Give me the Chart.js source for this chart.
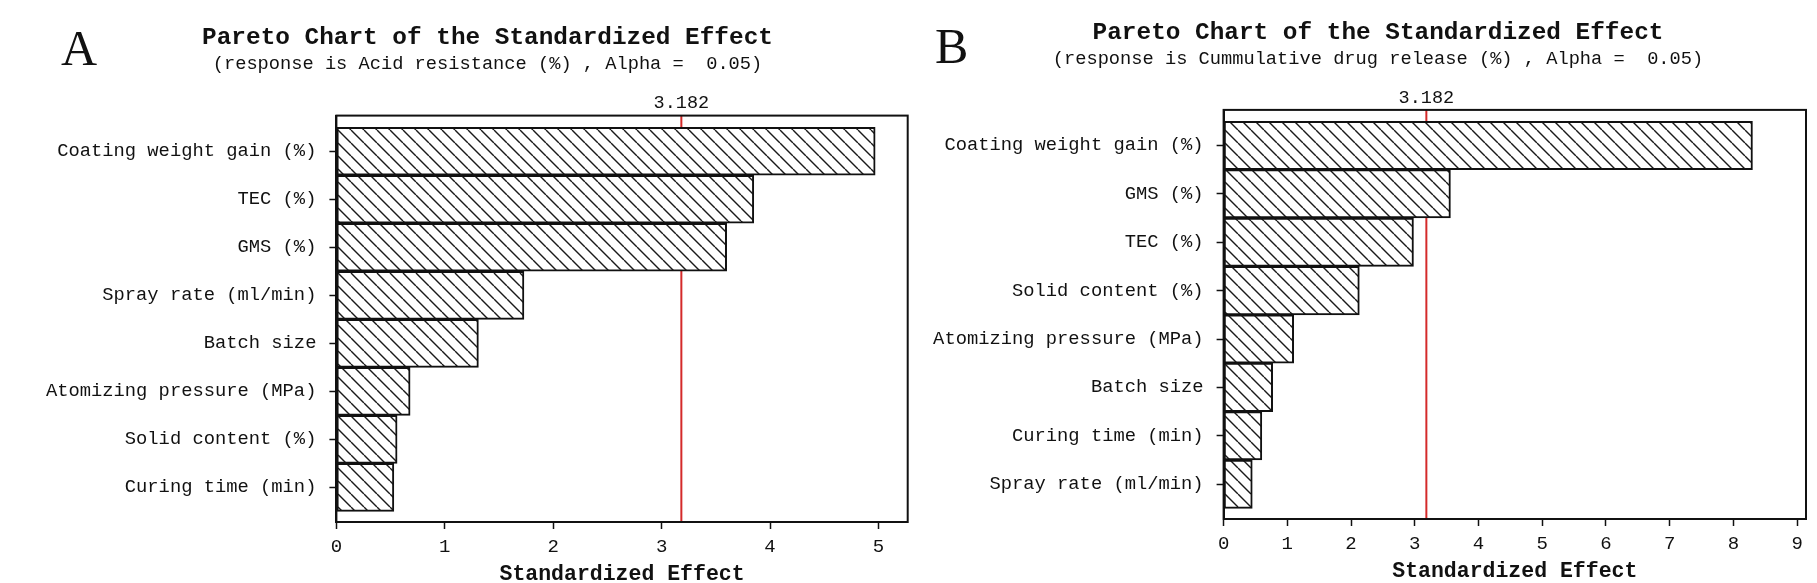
<!DOCTYPE html>
<html><head><meta charset="utf-8">
<script src="https://cdn.jsdelivr.net/npm/chart.js@4.4.1/dist/chart.umd.min.js"></script>
<style>
html,body{margin:0;padding:0;background:#fff;width:1817px;height:583px;overflow:hidden;}
canvas{position:absolute;top:0;}
#cA{left:0;} #cB{left:900px;}
</style></head><body>
<canvas id="cA" width="930" height="583" style="width:930px;height:583px"></canvas>
<canvas id="cB" width="917" height="583" style="width:917px;height:583px"></canvas>
<script>
const titleText = 'Pareto Chart of the Standardized Effect';
const subtitleA = '(response is Acid resistance (%) , Alpha =  0.05)';
const subtitleB = '(response is Cummulative drug release (%) , Alpha =  0.05)';
const xTitle = 'Standardized Effect';
const criticalValue = 3.182;

const factorsA = ['Coating weight gain (%)', 'TEC (%)', 'GMS (%)', 'Spray rate (ml/min)', 'Batch size', 'Atomizing pressure (MPa)', 'Solid content (%)', 'Curing time (min)'];
const effectsA = [4.97, 3.85, 3.60, 1.73, 1.31, 0.68, 0.56, 0.53];
const xTicksA = [0, 1, 2, 3, 4, 5];

const factorsB = ['Coating weight gain (%)', 'GMS (%)', 'TEC (%)', 'Solid content (%)', 'Atomizing pressure (MPa)', 'Batch size', 'Curing time (min)', 'Spray rate (ml/min)'];
const effectsB = [8.30, 3.56, 2.98, 2.13, 1.10, 0.77, 0.60, 0.45];
const xTicksB = [0, 1, 2, 3, 4, 5, 6, 7, 8, 9];

const INK = '#111';

function hatch() {
  const s = 13, c = document.createElement('canvas');
  c.width = s; c.height = s;
  const g = c.getContext('2d');
  g.fillStyle = '#fff'; g.fillRect(0, 0, s, s);
  g.strokeStyle = '#1a1a1a'; g.lineWidth = 1.4;
  g.beginPath();
  for (const o of [-s, 0, s]) { g.moveTo(o, 0); g.lineTo(o + s, s); }
  g.stroke();
  return g.createPattern(c, 'repeat');
}

const decor = {
  id: 'decor',
  afterLayout(chart) {
    // let the long factor names use the free space left of the axis box
    chart.scales.y.left = 0;
  },
  beforeDatasetsDraw(chart) {
    const {ctx, chartArea: a, scales: {x}} = chart;
    const px = x.getPixelForValue(criticalValue);
    ctx.save();
    ctx.strokeStyle = '#d42a2a'; ctx.lineWidth = 2;
    ctx.beginPath(); ctx.moveTo(px, a.top); ctx.lineTo(px, a.bottom); ctx.stroke();
    ctx.fillStyle = INK; ctx.font = '18.5px "Liberation Mono"';
    ctx.textAlign = 'center'; ctx.textBaseline = 'middle';
    ctx.fillText(String(criticalValue), px, a.top - 12);
    ctx.restore();
  },
  afterDraw(chart, args, opts) {
    const {ctx, chartArea: a} = chart;
    ctx.save();
    ctx.strokeStyle = INK; ctx.lineWidth = 2;
    ctx.strokeRect(a.left, a.top, a.right - a.left, a.bottom - a.top);
    ctx.fillStyle = INK; ctx.font = '50px "Liberation Serif"';
    ctx.textAlign = 'left'; ctx.textBaseline = 'alphabetic';
    ctx.fillText(opts.letter, opts.lx, opts.ly);
    ctx.restore();
  }
};

function makeChart(id, cats, vals, xTicks, xMax, sub, o) {
  const data = vals.map((v, i) => ({x: v, y: i}));
  const gridOpts = () => ({display: true, offset: false, drawOnChartArea: false, drawTicks: true, tickLength: 7, tickColor: INK, tickWidth: 1.5});
  return new Chart(document.getElementById(id), {
    type: 'bar',
    data: {datasets: [{data, backgroundColor: hatch(), borderColor: INK, borderWidth: 2, borderSkipped: false, barPercentage: 1, categoryPercentage: 1}]},
    options: {
      indexAxis: 'y', responsive: false, animation: false,
      layout: {padding: {left: o.pl, right: o.pr, top: 0, bottom: o.pb}},
      plugins: {
        legend: {display: false}, tooltip: {enabled: false},
        title: {display: true, text: titleText, color: INK, font: {family: 'Liberation Mono', size: 24.4, weight: 'bold', lineHeight: 1}, padding: {top: o.tt, bottom: 0}},
        subtitle: {display: true, text: sub, color: INK, font: {family: 'Liberation Mono', size: 18.7, lineHeight: 1}, padding: {top: o.st, bottom: o.sb}},
        decor: {letter: o.letter, lx: o.lx, ly: o.ly}
      },
      scales: {
        x: {
          type: 'linear', position: 'bottom', min: 0, max: xMax, offset: false,
          afterBuildTicks: s => { s.ticks = xTicks.map(v => ({value: v})); },
          afterFit: s => { s.height = 61; },
          grid: gridOpts(),
          border: {display: true, color: INK, width: 2},
          ticks: {color: INK, font: {family: 'Liberation Mono', size: 19}, padding: 7, maxRotation: 0},
          title: {display: true, text: xTitle, color: INK, font: {family: 'Liberation Mono', size: 21.5, weight: 'bold', lineHeight: 0.8}, padding: {top: 0, bottom: 0}}
        },
        y: {
          type: 'linear', position: 'left', reverse: true, min: o.ymin, max: o.ymax, offset: false, bounds: 'data',
          afterBuildTicks: s => { s.ticks = cats.map((c, i) => ({value: i})); },
          afterFit: s => { s.width = o.yw; },
          grid: gridOpts(),
          border: {display: true, color: INK, width: 2},
          ticks: {color: INK, font: {family: 'Liberation Mono', size: 18.8}, padding: 13, autoSkip: false, callback: v => cats[v]}
        }
      }
    },
    plugins: [decor]
  });
}

makeChart('cA', factorsA, effectsA, xTicksA, 5.27, subtitleA,
  {pl: 67.3, pr: 22.3, pb: 0, yw: 269.1, tt: 26, st: 4.75, sb: 41.75, ymin: -0.743, ymax: 7.722, letter: 'A', lx: 61, ly: 65});
makeChart('cB', factorsB, effectsB, xTicksB, 9.14, subtitleB,
  {pl: 50, pr: 11, pb: 3, yw: 273.6, tt: 21, st: 4.25, sb: 41.55, ymin: -0.735, ymax: 7.72, letter: 'B', lx: 35, ly: 63});
</script>
</body></html>
